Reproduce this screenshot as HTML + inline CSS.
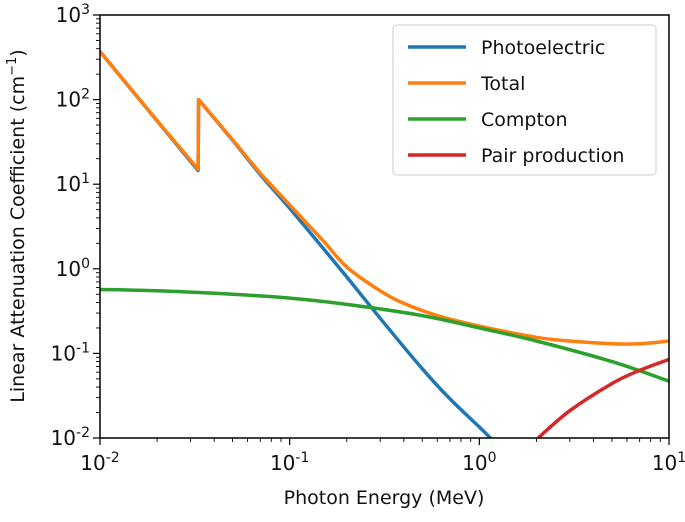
<!DOCTYPE html>
<html><head><meta charset="utf-8"><style>
body{margin:0;background:#fff;}
svg text{font-family:"DejaVu Sans","Liberation Sans",sans-serif;fill:#111;}
</style></head><body>
<svg id="chart" width="685" height="517" xmlns="http://www.w3.org/2000/svg"></svg>
<script>
const photoE=[0.01,0.02,0.0329,0.0331,0.05,0.07,0.1,0.15,0.2,0.3,0.5,0.7,1.0,1.2];
const photoV=[370,56,14.5,100,33,13,5.2,1.75,0.8,0.26,0.066,0.029,0.0135,0.009];
const totalE=[0.01,0.02,0.0329,0.0331,0.05,0.07,0.1,0.15,0.2,0.3,0.4,0.6,1,2,3,5,7,10];
const totalV=[370,56.5,15,100,33.5,13.5,5.7,2.15,1.05,0.55,0.39,0.28,0.21,0.155,0.14,0.13,0.13,0.14];
const comptonE=[0.01,0.02,0.05,0.1,0.2,0.5,1,2,5,10];
const comptonV=[0.57,0.55,0.5,0.45,0.38,0.28,0.2,0.14,0.08,0.047];
const pairE=[2.04,3,5,7,10];
const pairV=[0.01,0.021,0.044,0.063,0.085];
const xTicks=[-2,-1,0,1];
const yTicks=[-2,-1,0,1,2,3];
const X0=100,X1=669,Y0=438,Y1=15;
const sx=e=>X0+(Math.log10(e)+2)/3*(X1-X0);
const sy=v=>Y0-(Math.log10(v)+2)/5*(Y0-Y1);
const svg=document.getElementById('chart');
const NS='http://www.w3.org/2000/svg';
function mk(t,a,p){const e=document.createElementNS(NS,t);for(const k in a)e.setAttribute(k,a[k]);(p||svg).appendChild(e);return e;}
const clip=mk('clipPath',{id:'pc'});mk('rect',{x:X0,y:Y1,width:X1-X0,height:Y0-Y1},clip);
function series(E,V,col,name){
  const P=E.map((e,i)=>[sx(e),sy(V[i])]);
  let d='M'+P[0][0].toFixed(1)+','+P[0][1].toFixed(1);
  for(let i=0;i<P.length-1;i++){
    const p0=P[i],p1=P[i+1];
    if(p1[0]-p0[0]<3){d+='L'+p1[0].toFixed(1)+','+p1[1].toFixed(1);continue;}
    const pm=(i>0&&p0[0]-P[i-1][0]>=3)?P[i-1]:p0;
    const p2=(i+2<P.length&&P[i+2][0]-p1[0]>=3)?P[i+2]:p1;
    const c1=[p0[0]+(p1[0]-pm[0])/6,p0[1]+(p1[1]-pm[1])/6];
    const c2=[p1[0]-(p2[0]-p0[0])/6,p1[1]-(p2[1]-p0[1])/6];
    d+='C'+c1.map(v=>v.toFixed(1))+' '+c2.map(v=>v.toFixed(1))+' '+p1.map(v=>v.toFixed(1));
  }
  const p=mk('path',{d:d,fill:'none',stroke:col,'stroke-width':3.5,'clip-path':'url(#pc)','stroke-linejoin':'round'});
  
  
}
series(photoE,photoV,'#1f77b4','photoelectric-line');
series(totalE,totalV,'#ff7f0e','total-line');
series(comptonE,comptonV,'#2ca02c','compton-line');
series(pairE,pairV,'#d62728','pair-production-line');
const frame=mk('rect',{x:X0,y:Y1,width:X1-X0,height:Y0-Y1,fill:'none',stroke:'#000','stroke-width':1.5});


xTicks.forEach(k=>{
  const x=X0+(k+2)/3*(X1-X0);
  mk('line',{x1:x,x2:x,y1:Y0,y2:Y0+7,stroke:'#000','stroke-width':1.2});
  if(k<1)for(let m=2;m<10;m++){const xm=sx(Math.pow(10,k)*m);mk('line',{x1:xm,x2:xm,y1:Y0,y2:Y0+4,stroke:'#000','stroke-width':0.9});}
  const t=mk('text',{x:x,y:Y0+32,'text-anchor':'middle','font-size':20});
  t.innerHTML='10<tspan dy="-8" font-size="14">'+k+'</tspan>';
  
  
});
yTicks.forEach(k=>{
  const y=Y0-(k+2)/5*(Y0-Y1);
  mk('line',{x1:X0-7,x2:X0,y1:y,y2:y,stroke:'#000','stroke-width':1.2});
  if(k<3)for(let m=2;m<10;m++){const ym=sy(Math.pow(10,k)*m);mk('line',{x1:X0-4,x2:X0,y1:ym,y2:ym,stroke:'#000','stroke-width':0.9});}
  const t=mk('text',{x:X0-10,y:y+7,'text-anchor':'end','font-size':20});
  t.innerHTML='10<tspan dy="-8" font-size="14">'+k+'</tspan>';
  
  
});
</script>
<svg style="position:absolute;left:0;top:0" width="685" height="517" xmlns="http://www.w3.org/2000/svg">
<text x="384" y="504" text-anchor="middle" font-size="19">Photon Energy (MeV)</text>
<text transform="translate(24,226) rotate(-90)" text-anchor="middle" font-size="19">Linear Attenuation Coefficient (cm<tspan dy="-8" font-size="13">−1</tspan><tspan dy="8">)</tspan></text>
<g>
<rect x="393" y="25" width="263" height="150" rx="4" fill="#fff" stroke="#ccc" stroke-width="1"/>
<g><line x1="408" x2="466" y1="47" y2="47" stroke="#1f77b4" stroke-width="3.5"/><text x="481" y="54" font-size="19">Photoelectric</text></g>
<g><line x1="408" x2="466" y1="83" y2="83" stroke="#ff7f0e" stroke-width="3.5"/><text x="481" y="90" font-size="19">Total</text></g>
<g><line x1="408" x2="466" y1="119" y2="119" stroke="#2ca02c" stroke-width="3.5"/><text x="481" y="126" font-size="19">Compton</text></g>
<g><line x1="408" x2="466" y1="155" y2="155" stroke="#d62728" stroke-width="3.5"/><text x="481" y="162" font-size="19">Pair production</text></g>
</g>
</svg>
</body></html>
